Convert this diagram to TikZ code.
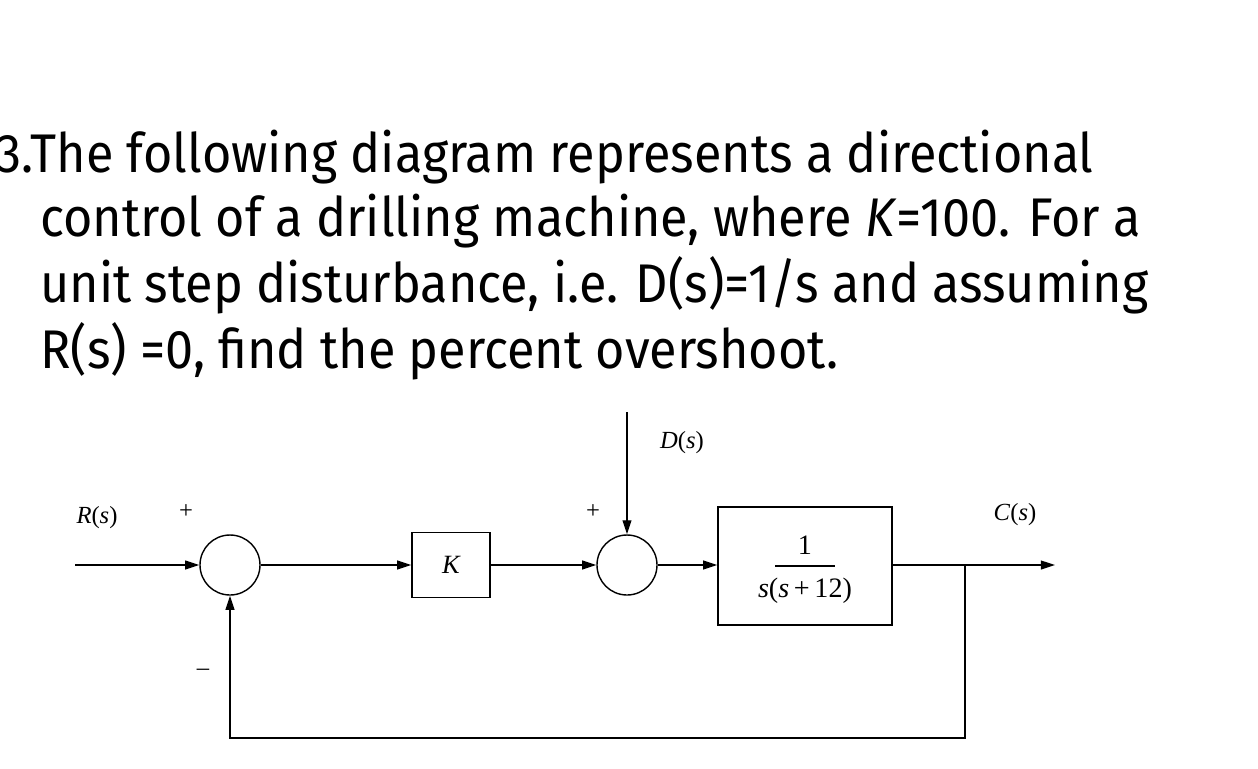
\documentclass[tikz,border=0pt]{standalone}
\usepackage{fontspec}
\setmainfont{Fira Sans}[FakeStretch=0.925]
\newfontfamily\dfont{Liberation Serif}
\usetikzlibrary{arrows.meta}
\begin{document}
\begin{tikzpicture}[x=0.02cm,y=-0.02cm,
  txt/.style={anchor=base west,inner sep=0,font=\fontsize{31}{36}\selectfont},
  lbl/.style={inner sep=0,font=\dfont\fontsize{14}{16}\selectfont},
  sumc/.style={draw,circle,minimum size=60*0.02cm,inner sep=0,line width=0.8pt},
  blk/.style={draw,rectangle,inner sep=0,line width=0.8pt},
  ln/.style={line width=0.8pt},
  arr/.style={ln,-{Triangle[length=8pt,width=5pt]}}]
\useasboundingbox (0,0) rectangle (1258,768);
\node[txt] (l1) at (-4,172) {3.The following diagram represents a directional};
\node[txt] (l2) at (40,236) {control of a drilling machine, where \textit{K}=100. For a};
\node[txt] (l3) at (40,302) {unit step disturbance, i.e. D(s)=1/s and assuming};
\node[txt] (l4) at (40,368) {R(s) =0, find the percent overshoot.};
\node[sumc] (s1) at (230,565) {};
\node[sumc] (s2) at (627,565) {};
\node[blk,minimum width=78*0.02cm,minimum height=65*0.02cm] (k) at (451,565) {\dfont\itshape\fontsize{15}{17}\selectfont K};
\node[blk,minimum width=174*0.02cm,minimum height=118*0.02cm] (g) at (805,566) {};
\node[lbl,font=\dfont\fontsize{16}{18}\selectfont] (num) at (805,545) {1};
\draw[ln] (775,566) -- (835,566);
\node[lbl,font=\dfont\fontsize{16}{18}\selectfont] (den) at (805,591) {\textit{s}(\textit{s}\,+\,12)};
\coordinate (in) at (75,565);
\coordinate (dtop) at (627,412);
\coordinate (out) at (1055,565);
\coordinate (br) at (965,565);
\coordinate (b1) at (965,738);
\coordinate (b2) at (230,738);
\draw[arr] (in) -- (s1);
\draw[arr] (s1) -- (k);
\draw[arr] (k) -- (s2);
\draw[arr] (dtop) -- (s2);
\draw[arr] (s2) -- (g.west|-s2);
\draw[arr] (g.east|-out) -- (out);
\draw[arr] (br) -- (b1) -- (b2) -- (s1);
\node[lbl] (R) at (97,518) {\textit{R}(\textit{s})};
\node[lbl] (p1) at (186,512) {+};
\node[lbl] (m1) at (203,672) {\textendash};
\node[lbl] (p2) at (593,512) {+};
\node[lbl] (D) at (682,443) {\textit{D}(\textit{s})};
\node[lbl] (C) at (1015,515) {\textit{C}(\textit{s})};
\end{tikzpicture}
\end{document}
